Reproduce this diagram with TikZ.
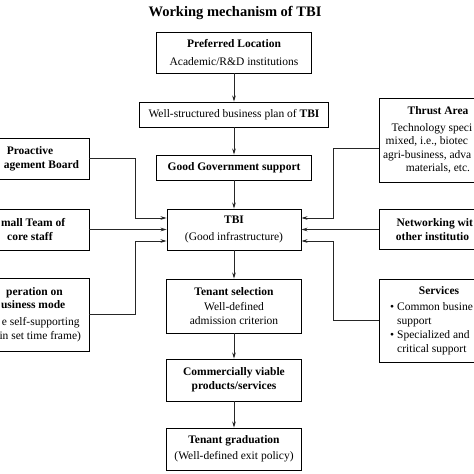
\documentclass[tikz,border=0pt]{standalone}
\usepackage{fontspec}
\setmainfont{Liberation Serif}
\usetikzlibrary{arrows.meta}
\begin{document}
\begin{tikzpicture}[x=1pt,y=-1pt,
  every node/.style={font=\fontsize{11.5}{13.6}\selectfont},
  box/.style={draw=black, line width=0.9pt, align=center, inner sep=0pt},
  conn/.style={draw=black!85, line width=0.8pt},
  arr/.style={conn, -{Stealth[length=6pt,width=3.6pt]}},
  titlestyle/.style={font=\fontsize{14.5}{16}\selectfont\bfseries},
]
\useasboundingbox (0,0) rectangle (474,474);
\begin{scope}
\clip (0,0) rectangle (474,474);

\node[titlestyle] (title) at (235,13) {Working mechanism of TBI};

% central column
\node[box, minimum width=155pt, minimum height=41pt] (loc) at (234,52.5)
  {\textbf{Preferred Location}\\[4pt]Academic/R\&D institutions};
\node[box, minimum width=189pt, minimum height=25pt] (plan) at (234,114.5)
  {Well-structured business plan of \textbf{TBI}};
\node[box, minimum width=155pt, minimum height=25pt] (gov) at (234,167.5)
  {\textbf{Good Government support}};
\node[box, minimum width=134pt, minimum height=41pt] (tbi) at (234,229.5)
  {\textbf{TBI}\\[3pt](Good infrastructure)};
\node[box, minimum width=135pt, minimum height=54pt] (sel) at (234,306)
  {\textbf{Tenant selection}\\[2pt]Well-defined\\admission criterion};
\node[box, minimum width=135pt, minimum height=42pt] (com) at (234,380)
  {\textbf{Commercially viable}\\\textbf{products/services}};
\node[box, minimum width=135pt, minimum height=42pt] (grad) at (234,449)
  {\textbf{Tenant graduation}\\[2pt](Well-defined exit policy)};

% left column (boxes run past the left edge, as in the reference)
\node[box, minimum width=118pt, minimum height=41pt] (pro) at (30,158.5)
  {\textbf{Proactive}\\\textbf{\phantom{Man}agement Board}};
\node[box, minimum width=118pt, minimum height=41pt] (team) at (30,229.5)
  {\textbf{\phantom{S}mall Team of}\\\textbf{core staff}};
\node[box, minimum width=118pt, minimum height=73pt] (op) at (30,314.5)
  {\textbf{\phantom{O}peration on}\\\textbf{\phantom{b}usiness mode}\\[3pt]\phantom{(to b}e self-supporting\\\phantom{with}in set time frame)};

% right column (boxes run past the right edge, as in the reference)
\node[box, minimum width=118pt, minimum height=84pt] (thrust) at (438,140)
  {\textbf{Thrust Area}\\[3pt]Technology speci\phantom{fic}\\mixed, i.e., biotec\phantom{h, ab}\\agri-business, adva\phantom{nced}\\materials, etc.};
\node[box, minimum width=118pt, minimum height=40pt] (net) at (438,229.5)
  {\textbf{Networking wit\phantom{h}}\\\textbf{other institutio\phantom{ns}}};
\node[box, minimum width=118pt, minimum height=83pt] (serv) at (438,320.5)
  {\begin{tabular}{@{}l@{\hspace{3pt}}l@{\hspace{4pt}}}
    \multicolumn{2}{c@{\hspace{4pt}}}{\textbf{Services}}\\[3pt]
    \textbullet & Common busine\phantom{ss}\\
     & support\\[1pt]
    \textbullet & Specialized and\\
     & critical support
   \end{tabular}};

% vertical arrows
\draw[arr] (loc) -- (plan);
\draw[arr] (plan) -- (gov);
\draw[arr] (gov) -- (tbi);
\draw[arr] (tbi) -- (sel);
\draw[arr] (sel) -- (com);
\draw[arr] (com) -- (grad);

% junction columns and anchor points
\coordinate (lj) at (135,0);
\coordinate (rj) at (333,0);
\coordinate (tw1) at ([yshift=11.5pt]tbi.west);
\coordinate (tw3) at ([yshift=-11.5pt]tbi.west);
\coordinate (te1) at ([yshift=11.5pt]tbi.east);
\coordinate (te3) at ([yshift=-11.5pt]tbi.east);
\coordinate (ts) at ([yshift=-8pt]thrust.west);

\draw[arr] (pro.east) -| (lj |- tw1) -- (tw1);
\draw[arr] (team.east) -- (tbi.west);
\draw[arr] (op.east) -| (lj |- tw3) -- (tw3);
\draw[arr] (ts) -| (rj |- te1) -- (te1);
\draw[arr] (net.west) -- (tbi.east);
\draw[arr] (serv.west) -| (rj |- te3) -- (te3);
\end{scope}
\end{tikzpicture}
\end{document}
